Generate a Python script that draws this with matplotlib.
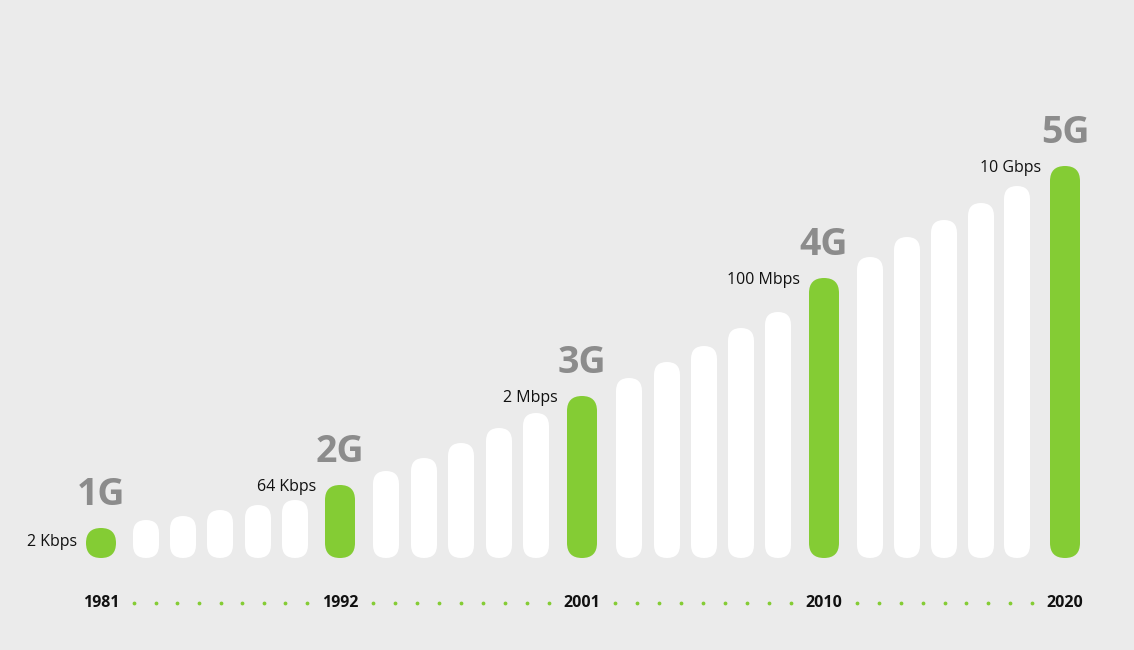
import numpy as np
import matplotlib.pyplot as plt
from matplotlib.patches import FancyBboxPatch

# bar centres (px) and top of each bar (px from top); bottom is common
bar_x = [101, 146, 183, 220, 258, 295, 340, 386, 424, 461, 499, 536, 582,
         629, 667, 704, 741, 778, 824, 870, 907, 944, 981, 1017, 1065]
bar_top = [528, 520, 516, 510, 505, 500, 485, 471, 458, 443, 428, 413, 396,
           378, 362, 346, 328, 312, 278, 257, 237, 220, 203, 186, 166]
bar_bottom = 558
green_idx = [0, 6, 12, 18, 24]
gen_labels = ['1G', '2G', '3G', '4G', '5G']
speed_labels = ['2 Kbps', '64 Kbps', '2 Mbps', '100 Mbps', '10 Gbps']
years = ['1981', '1992', '2001', '2010', '2020']

GREEN = '#84cc34'
BG = '#ebebeb'

fig = plt.figure(figsize=(11.34, 6.5), dpi=100, facecolor=BG)
ax = fig.add_axes([0, 0, 1, 1])
ax.set_facecolor(BG)
ax.set_xlim(0, 1134)
ax.set_ylim(650, 0)
ax.axis('off')

for i, (x, top) in enumerate(zip(bar_x, bar_top)):
    green = i in green_idx
    w = 30 if green else 26
    h = bar_bottom - top
    r = min(w, h) / 2
    box = FancyBboxPatch((x - w / 2 + r, top + r), w - 2 * r, max(h - 2 * r, 0),
                         boxstyle=f'round,pad={r}', fc=GREEN if green else 'white',
                         ec='none')
    ax.add_patch(box)

for k, i in enumerate(green_idx):
    x, top = bar_x[i], bar_top[i]
    ax.text(x, top - 14, gen_labels[k], ha='center', va='bottom', fontsize=27,
            fontweight='bold', color='#8c8c8c', family='Open Sans')
    ax.text(x - 24, top + 14 if k == 0 else top + 2, speed_labels[k], ha='right',
            va='center', fontsize=11.5, color='#111111', family='Open Sans')
    ax.text(x, 603, years[k], ha='center', va='center', fontsize=11.5,
            fontweight='bold', color='#111111', family='Open Sans')

for k in range(len(green_idx) - 1):
    a, b = bar_x[green_idx[k]] + 33, bar_x[green_idx[k + 1]] - 33
    xs = np.linspace(a, b, 9)
    ax.scatter(xs, np.full_like(xs, 603), s=3, color=GREEN, zorder=3)

fig.savefig('out.png', dpi=100, facecolor=BG)
